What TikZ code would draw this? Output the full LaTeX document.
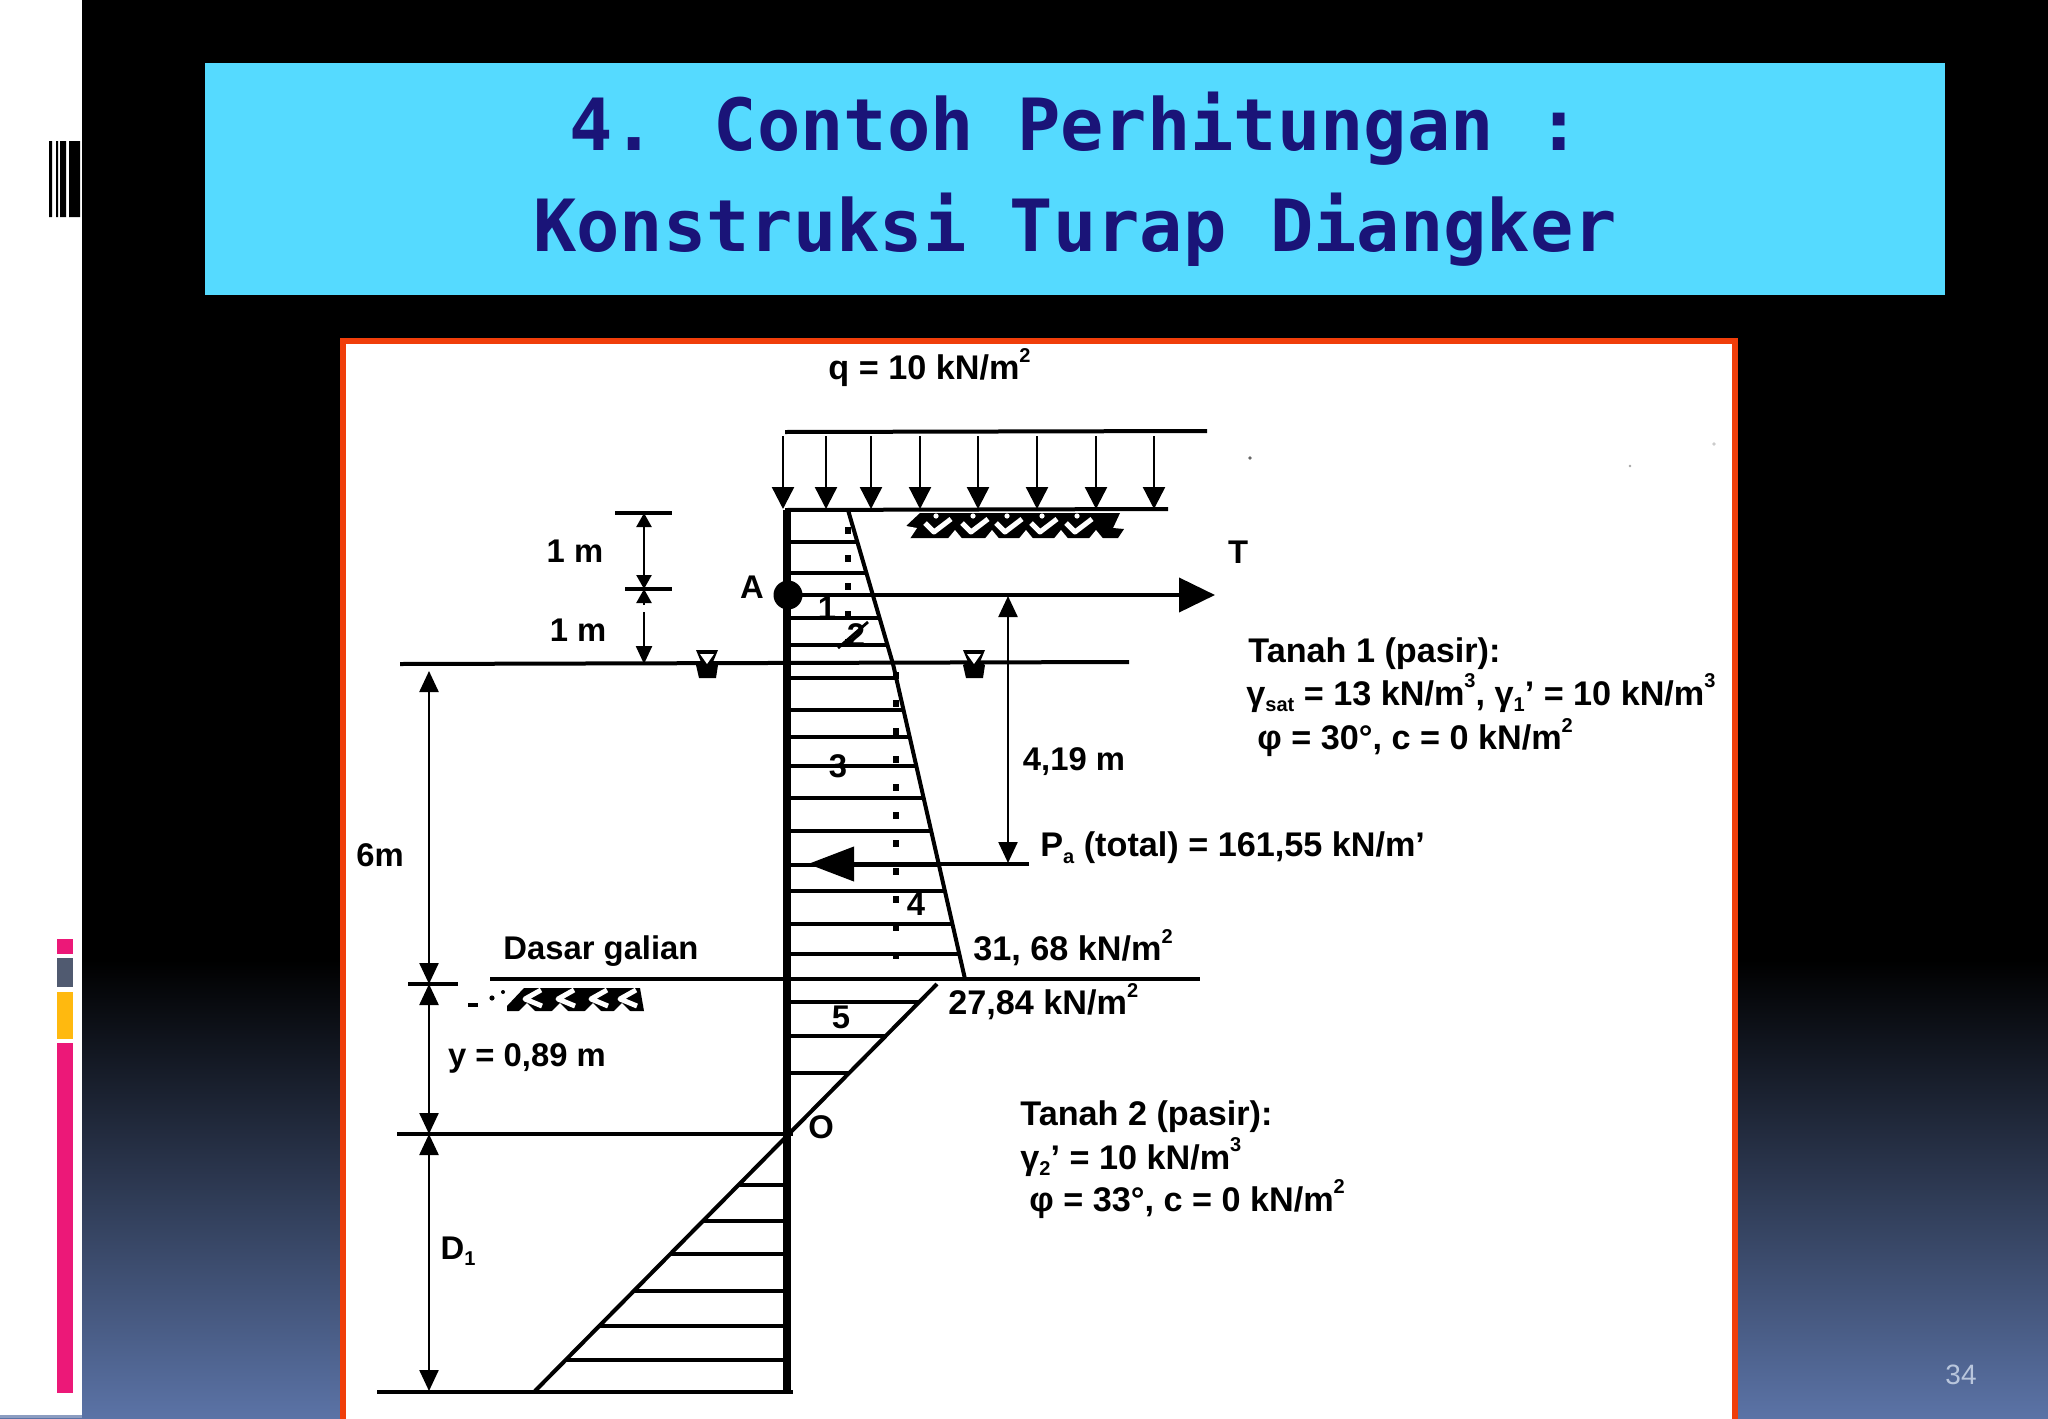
\documentclass[tikz,border=0pt]{standalone}
\usepackage{fontspec}
\setmainfont{Liberation Sans}
\newfontfamily\headfont{DejaVu Sans Mono}
\usetikzlibrary{arrows.meta}
\definecolor{headblue}{RGB}{85,218,255}
\definecolor{headink}{RGB}{26,20,120}
\definecolor{frameorange}{RGB}{240,62,10}
\definecolor{barpink}{RGB}{236,24,120}
\definecolor{bargray}{RGB}{80,90,112}
\definecolor{baryellow}{RGB}{255,185,15}
\definecolor{slideblue}{RGB}{91,115,166}
\definecolor{pagenum}{RGB}{185,198,220}
\newcommand{\upx}[1]{\raisebox{.5em}{\fontsize{10}{10}\selectfont #1}}
\newcommand{\dnx}[1]{\raisebox{-.18em}{\fontsize{10}{10}\selectfont #1}}
\tikzset{
  x=0.5pt,y=-0.5pt,
  lab/.style={inner sep=0pt,font=\fontsize{16.4}{18}\selectfont\bfseries,text=black},
  labl/.style={inner sep=0pt,anchor=west,font=\fontsize{17.1}{18}\selectfont\bfseries,text=black},
  title/.style={inner sep=0pt,text=headink,font=\fontsize{36}{38}\selectfont\headfont\bfseries},
  mid/.style={line width=2pt,black},
  hatch/.style={line width=1.8pt,black},
  dimb/.style={line width=1.2pt,black,{Triangle[length=10.5pt,width=9.5pt]}-{Triangle[length=10.5pt,width=9.5pt]}},
  smallhead/.style={line width=1.2pt,black,-{Triangle[length=7pt,width=7.5pt]}},
  load/.style={line width=1.2pt,black,-{Triangle[length=11pt,width=11pt]}},
  tarrow/.style={line width=2pt,black,-{Triangle[length=18pt,width=17pt]}},
  paarrow/.style={line width=2pt,black,-{Triangle[length=23pt,width=17pt]}},
  dotline/.style={line width=2.6pt,black,dash pattern=on 3.5pt off 10.5pt},
  whitemark/.style={line width=2.5pt,white,line join=round},
}
\begin{document}
\begin{tikzpicture}
\useasboundingbox (0,0) rectangle (2048,1418);
\clip (0,0) rectangle (2048,1418);
% slide background
\fill[black] (0,0) rectangle (2048,962);
\shade[top color=black,bottom color=slideblue] (0,960) rectangle (2048,1418);
\fill[white] (0,0) rectangle (82,1415);
\fill[slideblue!70!white] (0,1415) rectangle (82,1418);
% barcode
\fill[black] (49,141) rectangle (52,217) (56,141) rectangle (58,217) (60,141) rectangle (66,217) (69,141) rectangle (80,217);
% colour bars
\fill[barpink] (57,939) rectangle (73,954);
\fill[bargray] (57,958) rectangle (73,987);
\fill[baryellow] (57,992) rectangle (73,1039);
\fill[barpink] (57,1043) rectangle (73,1393);
% title
\fill[headblue] (205,63) rectangle (1945,295);
\node[title] (t1) at (1075,129) {4. Contoh Perhitungan :};
\node[title] (t2) at (1075,230) {Konstruksi Turap Diangker};
% picture frame
\draw[frameorange,line width=2.8pt,fill=white] (343,341) rectangle (1735,1460);
% specks
\fill[black!60] (1250,458) circle (1.8);
\fill[black!35] (1630,466) circle (1.4);
\fill[black!20] (1714,444) circle (1.8);
% pressure hatch
\foreach \y in {542,573,618,645}
  \draw[hatch] (787,\y) -- ({848+(\y-510)*0.295},\y);
\foreach \y in {678,710,737,766,798,831,865,891,924,954}
  \draw[hatch] (787,\y) -- ({893+(\y-664)*0.229},\y);
\foreach \y in {1002,1036,1073,1185,1221,1254,1291,1326,1360}
  \draw[hatch] (787,\y) -- ({937-(\y-984)*0.988},\y);
% wall and pressure lines
\coordinate (walltop) at (787,510);
\coordinate (wallbot) at (787,1392);
\draw[line width=4.2pt,black] (walltop) -- (wallbot);
\draw[mid,line join=round] (848,510) -- (893,664) -- (965,979);
\draw[mid] (937,984) -- (535,1391);
\draw[dotline] (848,527) -- (848,650);
\draw[dotline] (896,672) -- (896,975);
% load
\draw[mid] (785,432) -- (1207,431);
\draw[mid] (785,510) -- (1168,509);
\foreach \x in {783,826,871,920,978,1037,1096,1154}
  \draw[load] (\x,436) -- (\x,509);
% ground hatch top
\fill[black] (905,527) -- (920,513) -- (1120,513) -- (1113,528) -- (1124,529) -- (1118,538) -- (905,538) -- (914,528) -- cycle;
\foreach \x in {936,973,1007,1042,1077}{
  \fill[white] (\x,516) circle (2.6);
  \draw[whitemark] (\x-11,523) -- (\x-2,532) -- (\x+15,519);
  \fill[white] (\x+10,541) -- (\x+19,530) -- (\x+28,541) -- cycle;
}
\fill[white] (905,540) -- (905,513) -- (916,513) -- (906,526) -- (917,528) -- (909,540) -- cycle;
% water table
\draw[mid] (400,664) -- (1129,662);
\foreach \x in {707,974}{
  \fill[black] (\x-11,650) -- (\x+11,650) -- (\x+6,662) -- (\x+11,665) -- (\x+9,678) -- (\x-8,678) -- (\x-11,665) -- (\x-6,662) -- cycle;
  \fill[white] (\x-7,654) -- (\x+7,654) -- (\x,664) -- cycle;
}
% anchor and T
\coordinate (anchorA) at (788,595);
\coordinate (anchorT) at (1215,595);
\fill[black] (anchorA) circle (14.5);
\draw[tarrow] (anchorA) -- (anchorT);
\node[lab] (A) at (752,587) {A};
\node[lab] (T) at (1238,552) {T};
% 1 m dims
\coordinate (d1a) at (644,513);
\coordinate (d1b) at (644,589);
\coordinate (d1c) at (644,605);
\coordinate (d1d) at (644,612);
\coordinate (d1e) at (644,664);
\draw[mid] (615,513) -- (672,513);
\draw[mid] (625,589) -- (672,589);
\draw[smallhead] (644,560) -- (d1a);
\draw[smallhead] (644,540) -- (d1b);
\draw[smallhead] (d1c) -- (d1b);
\draw[load,-{Triangle[length=9pt,width=8pt]}] (d1d) -- (d1e);
\node[lab] (m1) at (575,551) {1 m};
\node[lab] (m2) at (578,630) {1 m};
% 6 m dims
\coordinate (d6a) at (429,671);
\coordinate (d6b) at (429,984);
\coordinate (dyb) at (429,1134);
\coordinate (dDb) at (429,1391);
\draw[dimb] (d6a) -- (d6b);
\draw[dimb] (d6b) -- (dyb);
\draw[dimb] (dyb) -- (dDb);
\draw[mid] (408,984) -- (458,984);
\draw[mid] (397,1134) -- (793,1134);
\draw[mid] (377,1392) -- (793,1392);
\node[lab] (six) at (380,855) {6m};
\node[lab] (yy) at (527,1058) {y = 0,89 m};
\node[lab] (D1) at (458,1251) {D\dnx{1}};
% dasar galian
\node[lab] (dg) at (601,951) {Dasar galian};
\draw[mid] (490,979) -- (1200,979);
\fill[black] (507,1006) -- (524,988) -- (640,988) -- (644,1011) -- (507,1011) -- cycle;
\foreach \x in {532,565,598,627}{
  \draw[whitemark] (\x+9,990) -- (\x-7,999) -- (\x+10,1006);
  \fill[white] (\x-15,1013) -- (\x-5,1003) -- (\x+5,1013) -- cycle;
}
\draw[line width=1.8pt,black] (468,1005) -- (478,1005);
\fill[black] (492,998) circle (2.6);
\fill[black] (503,992) circle (2);
% 4,19 m
\coordinate (pa) at (1008,863);
\coordinate (tb) at (1008,596);
\draw[dimb] (tb) -- (pa);
\node[lab] (d419) at (1074,762) {4,19 m};
% Pa arrow
\coordinate (paEnd) at (1029,864);
\coordinate (paTip) at (808,864);
\draw[paarrow] (paEnd) -- (paTip);
% numbers
\node[lab] (n1) at (827,608) {1};
\node[lab] (n2) at (856,635) {2};
\draw[line width=1.4pt,black] (838,648) -- (868,622);
\node[lab] (n3) at (838,766) {3};
\node[lab] (n4) at (916,904) {4};
\node[lab] (n5) at (841,1017) {5};
\node[lab] (nO) at (821,1127) {O};
% labels
\node[labl] (q) at (828,368) {q = 10 kN/m\upx{2}};
\node[labl] (tl1) at (1248,654) {Tanah 1 (pasir):};
\node[labl] (tl2) at (1246,693) {γ\dnx{sat} = 13 kN/m\upx{3}, γ\dnx{1}' = 10 kN/m\upx{3}};
\node[labl] (tl3) at (1257,738) {φ = 30°, c = 0 kN/m\upx{2}};
\node[labl] (pt) at (1040,848) {P\dnx{a} (total) = 161,55 kN/m'};
\node[labl] (p1) at (973,948) {31, 68 kN/m\upx{2}};
\node[labl] (p2) at (948,1002) {27,84 kN/m\upx{2}};
\node[labl] (tr1) at (1020,1117) {Tanah 2 (pasir):};
\node[labl] (tr2) at (1020,1157) {γ\dnx{2}' = 10 kN/m\upx{3}};
\node[labl] (tr3) at (1029,1199) {φ = 33°, c = 0 kN/m\upx{2}};
% page number
\node[inner sep=0pt,text=pagenum,font=\fontsize{14}{16}\selectfont] (pg) at (1961,1375) {34};
\end{tikzpicture}
\end{document}
